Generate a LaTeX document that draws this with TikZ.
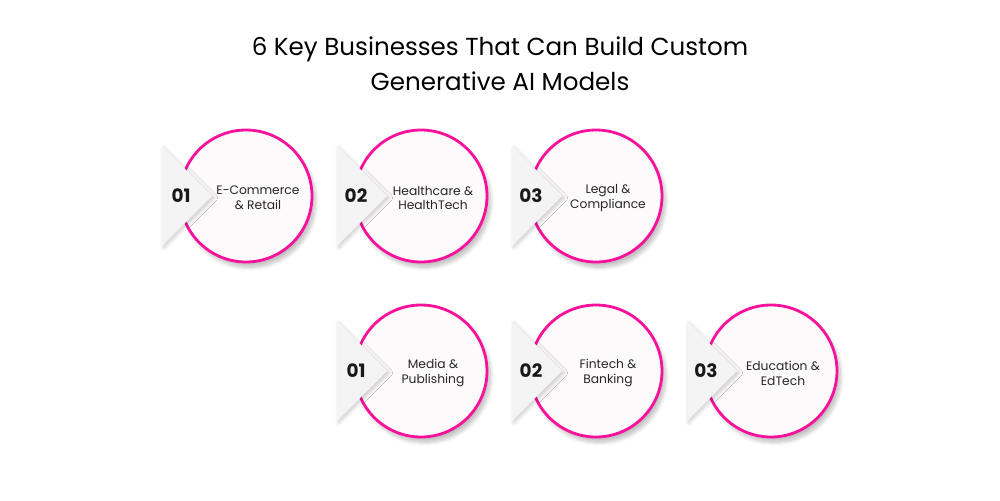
\documentclass[tikz,border=0pt]{standalone}
\usepackage{fontspec}
\setmainfont{Poppins}
\usetikzlibrary{shadows.blur}
\definecolor{pink}{HTML}{F7119B}
\definecolor{tri}{HTML}{F4F4F4}
\definecolor{fillc}{HTML}{FDFAFC}
\begin{document}
\begin{tikzpicture}[x=0.02cm,y=-0.02cm,
  circ/.style={circle,draw=pink,line width=1.6pt,fill=fillc,minimum size=2.64cm,blur shadow={shadow blur steps=8,shadow xshift=2pt,shadow yshift=-3pt,shadow opacity=25}},
  lab/.style={font=\fontsize{7}{8.5}\selectfont,align=center,text=black!85},
  num/.style={font=\fontsize{10.5}{12}\selectfont\bfseries,text=black!90}]
\useasboundingbox (0,0) rectangle (1000,500);
\node[font=\fontsize{14}{20}\selectfont,align=center] (title) at (500,64) {6 Key Businesses That Can Build Custom\\Generative AI Models};
\foreach \i/\cx/\cy/\n/\t in {a/246/196/01/{E-Commerce\\\& Retail},b/421/196/02/{Healthcare \&\\HealthTech},c/596/196/03/{Legal \&\\Compliance},d/421/371/01/{Media \&\\Publishing},e/596/371/02/{Fintech \&\\Banking},f/771/371/03/{Education \&\\EdTech}}{
  \node[circ] (c\i) at (\cx,\cy) {};
  \fill[tri,blur shadow={shadow blur steps=6,shadow xshift=1pt,shadow yshift=-1pt,shadow opacity=20}] (\cx-84,\cy-50) -- (\cx-34,\cy) -- (\cx-84,\cy+50) -- cycle;
  \node[num] (n\i) at (\cx-65,\cy) {\n};
  \node[lab] (l\i) at (\cx+12,\cy+2) {\t};
}
\end{tikzpicture}
\end{document}
